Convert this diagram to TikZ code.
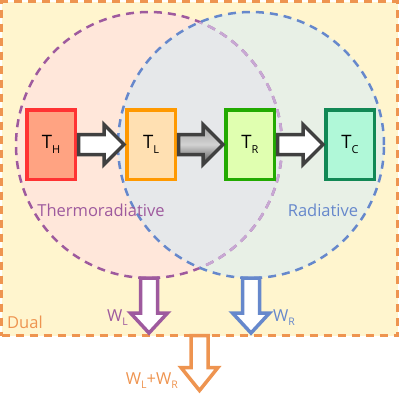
\documentclass[tikz,border=0pt]{standalone}
\usepackage{fontspec}
\setmainfont{Open Sans}
\usetikzlibrary{calc,shadings}
\definecolor{dualfill}{HTML}{FFF5CE}
\definecolor{leftfill}{HTML}{FFE7DA}
\definecolor{rightfill}{HTML}{E8F0E6}
\definecolor{midfill}{HTML}{E6E8EA}
\definecolor{purp}{HTML}{9E5A9E}
\definecolor{lpurp}{HTML}{C8A8D4}
\definecolor{blu}{HTML}{6688CC}
\definecolor{oran}{HTML}{EE9450}
\definecolor{arrgray}{HTML}{404040}
\definecolor{thd}{HTML}{FF3333}\definecolor{thf}{HTML}{FFA382}
\definecolor{tld}{HTML}{FF9900}\definecolor{tlf}{HTML}{FFE0B2}
\definecolor{trd}{HTML}{22AA00}\definecolor{trf}{HTML}{E0FFB0}
\definecolor{tcd}{HTML}{118855}\definecolor{tcf}{HTML}{B0F8D8}
\newcommand{\Tlab}[1]{\fontsize{18.5pt}{18.5pt}\selectfont T\raisebox{-0.45ex}{\fontsize{11pt}{11pt}\selectfont #1}}
\newcommand{\Wsub}[1]{W\raisebox{-0.45ex}{\fontsize{10.5pt}{10.5pt}\selectfont #1}}
\tikzset{
  tbox/.style={rectangle, line width=3.5pt, minimum width=48.5pt, minimum height=69.5pt, inner sep=0pt},
  ring/.style={circle, minimum size=266pt, inner sep=0pt, outer sep=0pt},
  ringline/.style={line width=2.5pt, dash pattern=on 8pt off 6pt},
  blockarr/.style={draw=arrgray, line width=3.5pt, line join=miter},
  downarr/.style={line width=3.5pt, fill=white, line join=miter},
  lab/.style={inner sep=0pt, font=\fontsize{16.5pt}{16.5pt}\selectfont},
}
\newcommand{\harrow}[3]{%
  \path[blockarr,#3] let \p1=(#1.east), \p2=(#2.west) in
    ({\x1+1.5pt},{\y1+10pt}) -- ({\x2-21pt},{\y1+10pt}) -- ({\x2-21pt},{\y1+20pt}) -- ({\x2-1pt},\y1)
    -- ({\x2-21pt},{\y1-20pt}) -- ({\x2-21pt},{\y1-10pt}) -- ({\x1+1.5pt},{\y1-10pt}) -- cycle;}
\newcommand{\varrow}[5]{%
  \path[downarr,draw=#4] let \p1=(#1) in
    ({\x1-#5},\y1) -- ({\x1+#5},\y1) -- ({\x1+#5},{\y1-#2}) -- ({\x1+#5+10pt},{\y1-#2})
    -- (\x1,{\y1-#3}) -- ({\x1-#5-10pt},{\y1-#2}) -- ({\x1-#5},{\y1-#2}) -- cycle;}
\begin{document}
\begin{tikzpicture}[x=1pt,y=-1pt]
\useasboundingbox (0,0) rectangle (400,400);
% dual box
\node[rectangle, minimum width=396pt, minimum height=334pt, inner sep=0pt, outer sep=0pt,
      fill=dualfill, draw=oran, line width=2.5pt, dash pattern=on 8pt off 6pt] (dual) at (199.5,168.5) {};
% circle fills
\node[ring, fill=leftfill] (lc) at (149,145) {};
\node[ring, fill=rightfill] (rc) at (251,145) {};
\begin{scope}
  \clip (lc.center) circle[radius=133pt];
  \fill[midfill] (rc.center) circle[radius=133pt];
\end{scope}
% circle borders
\draw[ringline, draw=purp] (lc.center) circle[radius=133pt];
\begin{scope}
  \clip (rc.center) circle[radius=133pt];
  \draw[ringline, draw=lpurp] (lc.center) circle[radius=133pt];
\end{scope}
\draw[ringline, draw=blu] (rc.center) circle[radius=133pt];
% boxes
\node[tbox, draw=thd, fill=thf] (th) at (51,144.5) {\Tlab{H}};
\node[tbox, draw=tld, fill=tlf] (tl) at (151,144.5) {\Tlab{L}};
\node[tbox, draw=trd, fill=trf] (tr) at (250,144.5) {\Tlab{R}};
\node[tbox, draw=tcd, fill=tcf] (tc) at (350,144.5) {\Tlab{C}};
% horizontal arrows
\harrow{th}{tl}{fill=white}
\harrow{tl}{tr}{top color=gray!75, bottom color=black!70, middle color=gray!35}
\harrow{tr}{tc}{fill=white}
% labels
\node[lab, text=purp] (thermo) at (101,210) {Thermoradiative};
\node[lab, text=blu] (radl) at (323,210) {Radiative};
\node[lab, text=oran, anchor=west] (duall) at (7,322) {Dual};
% down arrows
\varrow{lc.south}{35pt}{55pt}{purp}{8.5pt}
\varrow{rc.south}{35pt}{55pt}{blu}{8.5pt}
\varrow{dual.south}{32pt}{55pt}{oran}{8.5pt}
\node[lab, text=purp, anchor=east] (wl) at (128,318) {\Wsub{L}};
\node[lab, text=blu, anchor=west] (wr) at (273,318) {\Wsub{R}};
\node[lab, text=oran, anchor=east] (wlr) at (178,381) {\Wsub{L}+\Wsub{R}};
\end{tikzpicture}
\end{document}
